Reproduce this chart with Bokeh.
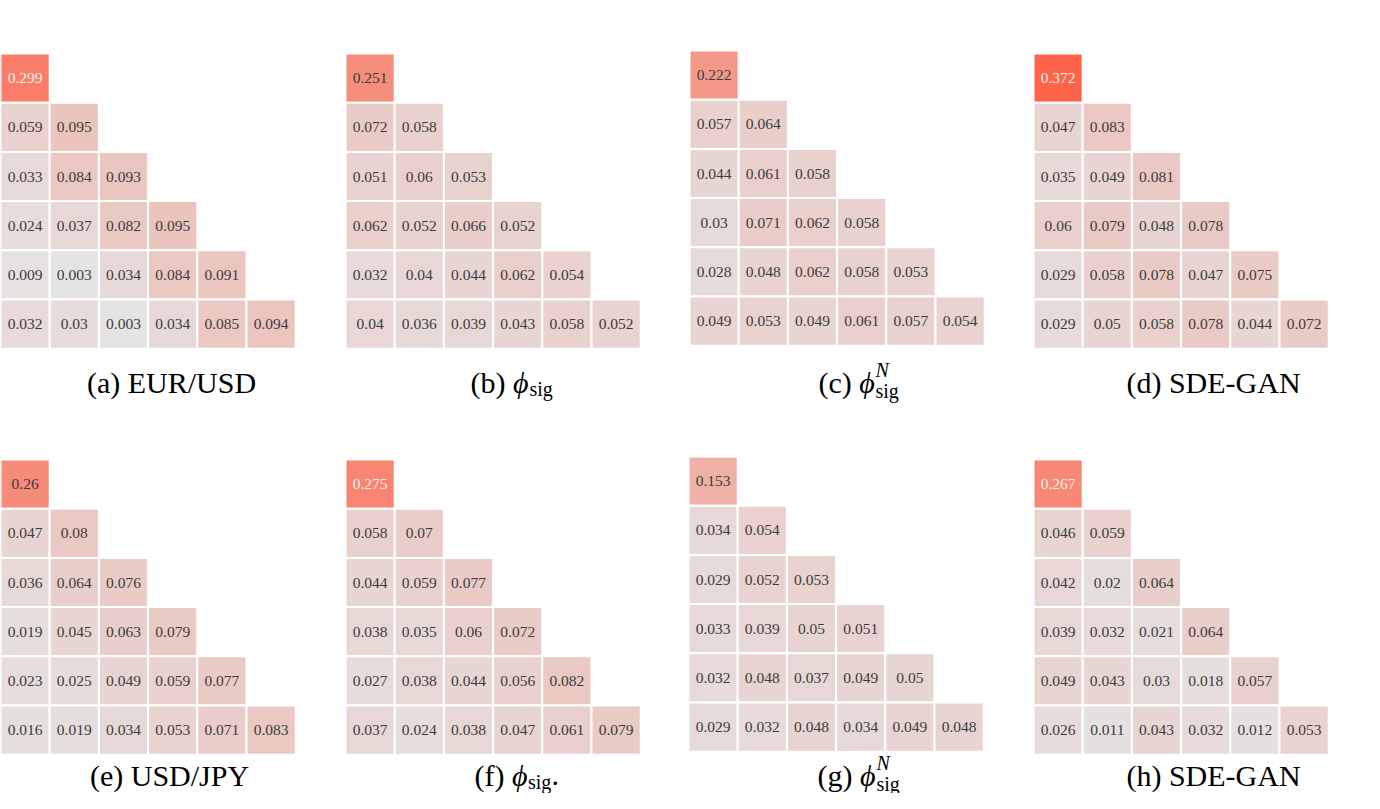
from bokeh.plotting import figure
from bokeh.models import ColumnDataSource, Range1d, LinearColorMapper, Label
from bokeh.transform import transform
from bokeh.layouts import row, column
from bokeh.core.properties import value
from bokeh.embed import file_html
from bokeh.resources import INLINE

# ---------------- data (lower-triangular matrices, row by row) ----------------
eur_usd = [
    [0.299],
    [0.059, 0.095],
    [0.033, 0.084, 0.093],
    [0.024, 0.037, 0.082, 0.095],
    [0.009, 0.003, 0.034, 0.084, 0.091],
    [0.032, 0.03, 0.003, 0.034, 0.085, 0.094],
]
eur_phi_sig = [
    [0.251],
    [0.072, 0.058],
    [0.051, 0.06, 0.053],
    [0.062, 0.052, 0.066, 0.052],
    [0.032, 0.04, 0.044, 0.062, 0.054],
    [0.04, 0.036, 0.039, 0.043, 0.058, 0.052],
]
eur_phi_sig_n = [
    [0.222],
    [0.057, 0.064],
    [0.044, 0.061, 0.058],
    [0.03, 0.071, 0.062, 0.058],
    [0.028, 0.048, 0.062, 0.058, 0.053],
    [0.049, 0.053, 0.049, 0.061, 0.057, 0.054],
]
eur_sde_gan = [
    [0.372],
    [0.047, 0.083],
    [0.035, 0.049, 0.081],
    [0.06, 0.079, 0.048, 0.078],
    [0.029, 0.058, 0.078, 0.047, 0.075],
    [0.029, 0.05, 0.058, 0.078, 0.044, 0.072],
]
usd_jpy = [
    [0.26],
    [0.047, 0.08],
    [0.036, 0.064, 0.076],
    [0.019, 0.045, 0.063, 0.079],
    [0.023, 0.025, 0.049, 0.059, 0.077],
    [0.016, 0.019, 0.034, 0.053, 0.071, 0.083],
]
jpy_phi_sig = [
    [0.275],
    [0.058, 0.07],
    [0.044, 0.059, 0.077],
    [0.038, 0.035, 0.06, 0.072],
    [0.027, 0.038, 0.044, 0.056, 0.082],
    [0.037, 0.024, 0.038, 0.047, 0.061, 0.079],
]
jpy_phi_sig_n = [
    [0.153],
    [0.034, 0.054],
    [0.029, 0.052, 0.053],
    [0.033, 0.039, 0.05, 0.051],
    [0.032, 0.048, 0.037, 0.049, 0.05],
    [0.029, 0.032, 0.048, 0.034, 0.049, 0.048],
]
jpy_sde_gan = [
    [0.267],
    [0.046, 0.059],
    [0.042, 0.02, 0.064],
    [0.039, 0.032, 0.021, 0.064],
    [0.049, 0.043, 0.03, 0.018, 0.057],
    [0.026, 0.011, 0.043, 0.032, 0.012, 0.053],
]

# ---------------- styling ----------------
CELL = 49.2
SERIF = "Liberation Serif"
LOW_RGB = (229, 229, 229)
HIGH_RGB = (254, 100, 74)
palette = []
for i in range(256):
    t = i / 255
    r, g, b = (round(LOW_RGB[k] + (HIGH_RGB[k] - LOW_RGB[k]) * t) for k in range(3))
    palette.append("#%02x%02x%02x" % (r, g, b))
mapper = LinearColorMapper(palette=palette, low=0.0, high=0.372)

TOP_H = 412
BOT_H = 381
TOP_BASE = 382
BOT_BASE = 775
MAIN = 30
SMALL = 20


def make_panel(mat, fig_left, fig_w, fig_h, row_top, grid_left, grid_top, caption, base):
    rows_, cols_, vals, labs, tcs = [], [], [], [], []
    for i, r in enumerate(mat):
        for j, v in enumerate(r):
            rows_.append(i + 0.5)
            cols_.append(j + 0.5)
            vals.append(v)
            labs.append(f"{v:g}")
            tcs.append("#fbf1ee" if v > 0.263 else "#3c3c3c")
    src = ColumnDataSource(dict(x=cols_, y=rows_, v=vals, lab=labs, tc=tcs))

    gl = grid_left - fig_left
    gt = grid_top - row_top
    p = figure(width=fig_w, height=fig_h,
               x_range=Range1d(-gl / CELL, (fig_w - gl) / CELL),
               y_range=Range1d((fig_h - gt) / CELL, -gt / CELL),
               output_backend="svg", toolbar_location=None, min_border=0,
               x_axis_location=None, y_axis_location=None,
               background_fill_color="white", border_fill_color="white")
    p.grid.visible = False
    p.outline_line_color = None
    p.rect(x="x", y="y", width=1, height=1, source=src,
           fill_color=transform("v", mapper), line_color="white", line_width=2)
    p.text(x="x", y="y", text="lab", source=src, text_align="center",
           text_baseline="middle", text_font=value(SERIF), text_font_size="15.5px",
           text_color="tc")
    for txt, xref, dy, size, style, align in caption:
        p.add_layout(Label(x=xref - fig_left, y=fig_h - (base - row_top) + dy,
                           x_units="screen", y_units="screen", text=txt,
                           text_font=SERIF, text_font_size=f"{size}px",
                           text_font_style=style, text_align=align,
                           text_baseline="alphabetic", text_color="black"))
    return p


PHI = "\u03d5"
cap_a = [("(a) EUR/USD", 171, 0, MAIN, "normal", "center")]
cap_b = [("(b)", 470, 0, MAIN, "normal", "left"), (PHI, 512.5, 0, MAIN, "italic", "left"),
         ("sig", 529, -6, SMALL, "normal", "left")]
cap_c = [("(c)", 818, 0, MAIN, "normal", "left"), (PHI, 858.8, 0, MAIN, "italic", "left"),
         ("N", 875, 13, SMALL, "italic", "left"), ("sig", 875, -8, SMALL, "normal", "left")]
cap_d = [("(d) SDE-GAN", 1213, 0, MAIN, "normal", "center")]
cap_e = [("(e) USD/JPY", 169, 0, MAIN, "normal", "center")]
cap_f = [("(f)", 474, 0, MAIN, "normal", "left"), (PHI, 511.5, 0, MAIN, "italic", "left"),
         ("sig", 527.5, -6, SMALL, "normal", "left"), (".", 551, 0, MAIN, "normal", "left")]
cap_g = [("(g)", 817, 0, MAIN, "normal", "left"), (PHI, 859.5, 0, MAIN, "italic", "left"),
         ("N", 876, 13, SMALL, "italic", "left"), ("sig", 876, -8, SMALL, "normal", "left")]
cap_h = [("(h) SDE-GAN", 1213, 0, MAIN, "normal", "center")]

fig_lefts = [0, 343, 686, 1029]
fig_ws = [343, 343, 343, 335]
top_grid_left = [0, 345, 689, 1033]
top_grid_top = [53, 53, 50, 53]
bot_grid_left = [0, 345, 688, 1033]
bot_grid_top = [459, 459, 456, 459]

top_mats = [eur_usd, eur_phi_sig, eur_phi_sig_n, eur_sde_gan]
bot_mats = [usd_jpy, jpy_phi_sig, jpy_phi_sig_n, jpy_sde_gan]
top_caps = [cap_a, cap_b, cap_c, cap_d]
bot_caps = [cap_e, cap_f, cap_g, cap_h]

top_row = [make_panel(top_mats[k], fig_lefts[k], fig_ws[k], TOP_H, 0, top_grid_left[k], top_grid_top[k],
                      top_caps[k], TOP_BASE) for k in range(4)]
bot_row = [make_panel(bot_mats[k], fig_lefts[k], fig_ws[k], BOT_H, TOP_H, bot_grid_left[k], bot_grid_top[k],
                      bot_caps[k], BOT_BASE) for k in range(4)]

layout = column(row(*top_row, spacing=0), row(*bot_row, spacing=0), spacing=0)
open("out.html", "w").write(file_html(layout, INLINE))
